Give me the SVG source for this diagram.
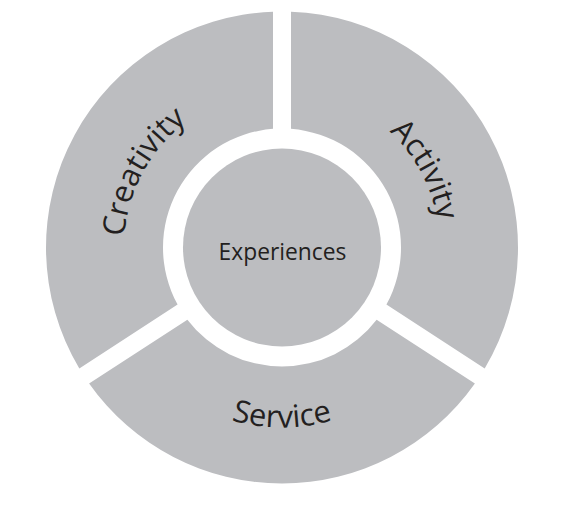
<svg xmlns="http://www.w3.org/2000/svg" xmlns:xlink="http://www.w3.org/1999/xlink" width="573" height="505" viewBox="0 0 573 505">
  <style>
    .seg { fill: #bcbdc0; stroke: none; }
    .lbl { font-family: "Open Sans", "Noto Sans", "Liberation Sans", sans-serif; fill: #231f20; }
    .big { font-size: 31px; }
    .mid { font-size: 22.8px; }
  </style>
  <defs>
    <path id="arc-creativity" d="M147.3,330.1 A158,158 0 0 1 277.86,89.55"/>
    <path id="arc-activity" d="M286.14,89.55 A158,158 0 0 1 416.7,330.1"/>
    <path id="arc-service" d="M126.1,337.5 A180,180 0 0 0 437.9,337.5"/>
  </defs>
  <rect width="573" height="505" fill="#ffffff"/>
  <g id="connectors"/>
  <g id="node-creativity">
    <path class="seg" d="M273,11.67 A236,236 0 0 0 79.31,368.38 L177.58,304.57 A119,119 0 0 1 273,128.84 Z"/>
    <text class="lbl big"><textPath xlink:href="#arc-creativity" href="#arc-creativity" startOffset="50%" text-anchor="middle">Creativity</textPath></text>
  </g>
  <g id="node-activity">
    <path class="seg" d="M291,11.67 A236,236 0 0 1 484.69,368.38 L386.42,304.57 A119,119 0 0 0 291,128.84 Z"/>
    <text class="lbl big"><textPath xlink:href="#arc-activity" href="#arc-activity" startOffset="50%" text-anchor="middle">Activity</textPath></text>
  </g>
  <g id="node-service">
    <path class="seg" d="M474.89,383.48 A236,236 0 0 1 89.11,383.48 L187.38,319.67 A119,119 0 0 0 376.62,319.67 Z"/>
    <text class="lbl big"><textPath xlink:href="#arc-service" href="#arc-service" startOffset="50%" text-anchor="middle">Service</textPath></text>
  </g>
  <g id="node-experiences">
    <circle class="seg" cx="282" cy="247.5" r="99"/>
    <text class="lbl mid" x="282.5" y="260" text-anchor="middle">Experiences</text>
  </g>
</svg>
